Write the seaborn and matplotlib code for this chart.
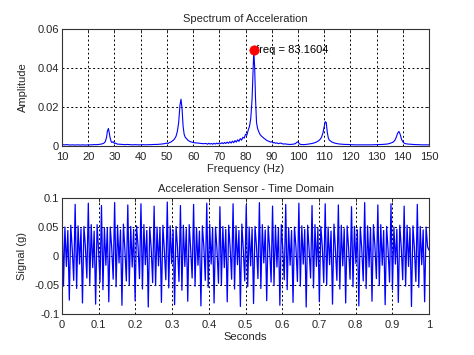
import numpy as np
import pandas as pd
import matplotlib
matplotlib.use("Agg")
import matplotlib.pyplot as plt
import seaborn as sns

# ---------------- data ----------------
spec_freq = [10, 11, 12, 13, 14, 15, 16, 17, 18, 19, 20, 21, 22, 23, 24, 25,
             25.5, 26, 26.5, 27, 27.3, 27.7, 28, 28.3, 28.7, 29, 29.5, 30, 30.5, 31,
             32, 33, 34, 35, 36, 37, 38, 39, 40, 41, 42, 43, 44, 45, 46, 47, 48, 49,
             50, 50.5, 51, 51.5, 52, 52.5, 53, 53.5, 54, 54.5, 55, 55.4, 55.8, 56.2,
             56.6, 57, 57.5, 58, 58.5, 59, 59.5, 60, 61, 62, 63, 64,
             65, 65.5, 66, 66.5, 67, 67.5, 68, 68.5, 69, 69.5, 70, 70.5, 71, 71.5,
             72, 72.5, 73, 73.5, 74, 74.5, 75, 75.5, 76, 76.5, 77, 77.5, 78, 78.5,
             79, 79.5, 80, 80.5, 81, 81.5, 82, 82.5, 82.8, 83.16, 83.5, 83.8, 84.2,
             84.6, 85, 85.5, 86, 86.5, 87, 87.5, 88, 88.5, 89, 89.5, 90, 90.5, 91,
             91.5, 92, 92.5, 93, 93.5, 94, 94.5, 95, 96, 97, 98, 99, 99.5, 100,
             100.5, 101, 102, 103, 104, 105, 106, 107, 108, 108.5, 109, 109.5, 110,
             110.4, 110.8, 111.2, 111.6, 112, 113, 114, 115, 116, 117, 118, 119, 120,
             122, 124, 126, 128, 130, 132, 134, 135, 136, 136.5, 137, 137.5, 138,
             138.5, 139, 139.5, 140, 140.5, 141, 142, 143, 144, 145, 146, 147, 148,
             149, 150]
spec_amp = [0.0007, 0.0006, 0.0007, 0.0005, 0.0006, 0.0005, 0.0006, 0.0005, 0.0006,
            0.0005, 0.0006, 0.0006, 0.0007, 0.0007, 0.0008, 0.0010,
            0.0012, 0.0015, 0.0022, 0.0045, 0.0075, 0.0090, 0.0070, 0.0045, 0.0025,
            0.0018, 0.0022, 0.0013, 0.0015, 0.0010,
            0.0009, 0.0008, 0.0007, 0.0008, 0.0007, 0.0006, 0.0007, 0.0006, 0.0006,
            0.0007, 0.0006, 0.0007, 0.0007, 0.0008, 0.0008, 0.0009, 0.0010, 0.0012,
            0.0015, 0.0013, 0.0018, 0.0020, 0.0025, 0.0030, 0.0038, 0.0050, 0.0075,
            0.0120, 0.0210, 0.0240, 0.0190, 0.0100,
            0.0060, 0.0045, 0.0038, 0.0030, 0.0025, 0.0022, 0.0020, 0.0018, 0.0016,
            0.0015, 0.0013, 0.0012,
            0.0013, 0.0009, 0.0014, 0.0010, 0.0013, 0.0009, 0.0014, 0.0010, 0.0015,
            0.0011, 0.0016, 0.0012, 0.0017, 0.0012,
            0.0018, 0.0013, 0.0020, 0.0014, 0.0022, 0.0015, 0.0025, 0.0017, 0.0028,
            0.0020, 0.0032, 0.0024, 0.0038, 0.0030,
            0.0045, 0.0040, 0.0060, 0.0055, 0.0080, 0.0100, 0.0140, 0.0240, 0.0350,
            0.0490, 0.0400, 0.0250, 0.0120,
            0.0090, 0.0075, 0.0060, 0.0052, 0.0046, 0.0040, 0.0035, 0.0030, 0.0026,
            0.0024, 0.0020, 0.0022, 0.0016, 0.0018,
            0.0014, 0.0016, 0.0012, 0.0014, 0.0015, 0.0012, 0.0010, 0.0011, 0.0009,
            0.0008, 0.0009, 0.0012, 0.0018, 0.0022,
            0.0012, 0.0008, 0.0007, 0.0008, 0.0010, 0.0012, 0.0015, 0.0020, 0.0028,
            0.0035, 0.0045, 0.0065, 0.0100,
            0.0125, 0.0120, 0.0070, 0.0040, 0.0030, 0.0020, 0.0015, 0.0012, 0.0010,
            0.0009, 0.0008, 0.0008, 0.0007,
            0.0006, 0.0006, 0.0006, 0.0006, 0.0007, 0.0008, 0.0010, 0.0013, 0.0018,
            0.0022, 0.0030, 0.0045, 0.0065,
            0.0075, 0.0060, 0.0035, 0.0022, 0.0015, 0.0012, 0.0010, 0.0009, 0.0008,
            0.0007, 0.0007, 0.0006, 0.0006,
            0.0006, 0.0006]

peak_freq = 83.1604
peak_amp = 0.049
peak_label = "freq = 83.1604"

signal_g = [
    0.085, -0.052, 0.050, -0.018, 0.044, -0.076, 0.053, 0.012, -0.042,
    0.089, -0.056, 0.052, -0.014, 0.047, -0.081, 0.051, 0.016, -0.038,
    0.091, -0.049, 0.054, -0.020, 0.043, -0.083, 0.054, 0.010, -0.045,
    0.087, -0.058, 0.049, -0.016, 0.048, -0.079, 0.050, 0.014, -0.040,
    0.092, -0.053, 0.053, -0.012, 0.045, -0.085, 0.055, 0.011, -0.043,
    0.088, -0.050, 0.051, -0.019, 0.046, -0.077, 0.052, 0.017, -0.039,
    0.090, -0.057, 0.054, -0.015, 0.044, -0.088, 0.050, 0.013, -0.046,
    0.086, -0.051, 0.050, -0.017, 0.049, -0.080, 0.053, 0.009, -0.041,
    0.093, -0.055, 0.052, -0.013, 0.045, -0.084, 0.051, 0.015, -0.044,
    0.087, -0.059, 0.053, -0.018, 0.047, -0.078, 0.054, 0.012, -0.038,
    0.089, -0.052, 0.049, -0.016, 0.043, -0.086, 0.052, 0.016, -0.042,
    0.091, -0.054, 0.055, -0.014, 0.048, -0.081, 0.050, 0.011, -0.047,
    0.085, -0.050, 0.051, -0.020, 0.046, -0.079, 0.053, 0.014, -0.040,
    0.090, -0.057, 0.052, -0.015, 0.044, -0.087, 0.055, 0.010, -0.043,
    0.088, -0.053, 0.050, -0.017, 0.047, -0.082, 0.051, 0.017, -0.039,
    0.092, -0.056, 0.054, -0.012, 0.045, -0.077, 0.052, 0.013, -0.045,
    0.086, -0.051, 0.053, -0.019, 0.049, -0.085, 0.054, 0.012, -0.041,
    0.089, -0.058, 0.049, -0.016, 0.044, -0.080, 0.050, 0.015, -0.044,
    0.091, -0.052, 0.052, -0.014, 0.046, -0.088, 0.053, 0.011, -0.038,
    0.087, -0.055, 0.054, -0.018, 0.048, -0.079, 0.051, 0.016, -0.046,
    0.090, -0.050, 0.050, -0.015, 0.043, -0.083, 0.055, 0.010, -0.042,
    0.088, -0.057, 0.053, -0.017, 0.047, -0.081, 0.052, 0.014, -0.040,
    0.085, -0.053, 0.051, -0.013, 0.045, -0.086, 0.050, 0.012, -0.043,
    0.092, -0.056, 0.052, -0.019, 0.049, -0.078, 0.054, 0.017, -0.039,
    0.088, -0.051, 0.054, -0.016, 0.044, -0.084, 0.051, 0.011, -0.045,
    0.090, -0.058, 0.050, -0.014, 0.046, -0.080, 0.053, 0.015, -0.041,
    0.086, -0.052, 0.053, -0.018, 0.048, -0.087, 0.052, 0.013, -0.044,
    0.089, -0.054, 0.051, -0.015, 0.045, -0.079, 0.050, 0.016, 0.010,
]
duration_s = 1.0

freq_ticks = [10, 20, 30, 40, 50, 60, 70, 80, 90, 100, 110, 120, 130, 140, 150]
amp_ticks = [0, 0.02, 0.04, 0.06]
amp_tick_labels = ["0", "0.02", "0.04", "0.06"]
time_ticks = [0, 0.1, 0.2, 0.3, 0.4, 0.5, 0.6, 0.7, 0.8, 0.9, 1]
time_tick_labels = ["0", "0.1", "0.2", "0.3", "0.4", "0.5", "0.6", "0.7", "0.8", "0.9", "1"]
sig_ticks = [-0.1, -0.05, 0, 0.05, 0.1]
sig_tick_labels = ["-0.1", "-0.05", "0", "0.05", "0.1"]

# ---------------- styling ----------------
sns.set_style("white")
plt.rcParams["font.family"] = ["Liberation Sans", "DejaVu Sans"]
plt.rcParams["font.size"] = 8

fig = plt.figure(figsize=(4.74, 3.55), dpi=100)
fig.patch.set_facecolor("white")
ax1 = fig.add_axes([0.1308, 0.5887, 0.7743, 0.3296])
ax2 = fig.add_axes([0.1308, 0.1155, 0.7743, 0.3268])

spec_df = pd.DataFrame({"freq": spec_freq, "amp": spec_amp})
sns.lineplot(data=spec_df, x="freq", y="amp", ax=ax1, color="#0000ff",
             linewidth=0.8, estimator=None, sort=False)
sns.scatterplot(x=[peak_freq], y=[peak_amp], ax=ax1, color="#ff0000",
                s=45, edgecolor="#ff0000", zorder=5)
ax1.text(peak_freq + 0.8, peak_amp, peak_label, fontsize=8, va="center",
         ha="left", color="black")

t = np.linspace(0, duration_s, len(signal_g))
sig_df = pd.DataFrame({"t": t, "g": signal_g})
sns.lineplot(data=sig_df, x="t", y="g", ax=ax2, color="#0000ff",
             linewidth=0.9, estimator=None, sort=False)

for ax in (ax1, ax2):
    ax.grid(True, color="black", linestyle=(0, (2, 2.5)), linewidth=0.7)
    ax.set_axisbelow(True)
    for s in ax.spines.values():
        s.set_visible(True)
        s.set_color("#333333")
        s.set_linewidth(0.8)
    ax.tick_params(direction="in", top=True, right=True, length=3,
                   width=0.6, labelsize=8, pad=2)

ax1.set_xlim(10, 150)
ax1.set_ylim(0, 0.06)
ax1.set_xticks(freq_ticks)
ax1.set_yticks(amp_ticks)
ax1.set_yticklabels(amp_tick_labels)
ax1.tick_params(axis="x", pad=4)
ax1.set_title("Spectrum of Acceleration", fontsize=8, pad=5)
ax1.set_xlabel("Frequency (Hz)", fontsize=8, labelpad=2)
ax1.set_ylabel("Amplitude", fontsize=8, labelpad=7)

ax2.set_xlim(0, 1)
ax2.set_ylim(-0.1, 0.1)
ax2.set_xticks(time_ticks)
ax2.set_xticklabels(time_tick_labels)
ax2.set_yticks(sig_ticks)
ax2.set_yticklabels(sig_tick_labels)
ax2.tick_params(axis="x", pad=4)
ax2.set_title("Acceleration Sensor - Time Domain", fontsize=8, pad=4)
ax2.set_xlabel("Seconds", fontsize=8, labelpad=2)
ax2.set_ylabel("Signal (g)", fontsize=8, labelpad=5)

fig.savefig("out.png", dpi=100, facecolor="white")
